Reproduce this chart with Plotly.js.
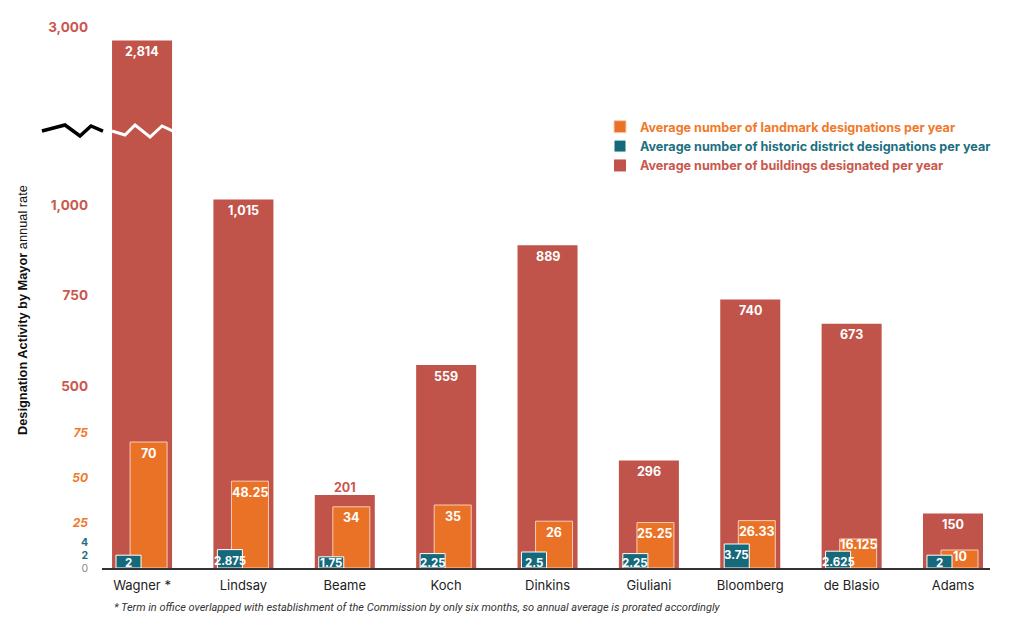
<!DOCTYPE html>
<html>
<head>
<meta charset="utf-8">
<script src="https://cdn.plot.ly/plotly-3.0.1.min.js"></script>
<style>
  html, body { margin: 0; padding: 0; background: #fff; }
  #chart { width: 1024px; height: 621px; }
</style>
</head>
<body>
<div id="chart"></div>
<script>
// Average yearly designation activity of the Landmarks Preservation Commission, by mayor
const mayors = ['Wagner *', 'Lindsay', 'Beame', 'Koch', 'Dinkins', 'Giuliani', 'Bloomberg', 'de Blasio', 'Adams'];
const buildingsPerYear = [2814, 1015, 201, 559, 889, 296, 740, 673, 150];
const landmarksPerYear = [70, 48.25, 34, 35, 26, 25.25, 26.33, 16.125, 10];
const districtsPerYear = [2, 2.875, 1.75, 2.25, 2.5, 2.25, 3.75, 2.625, 2];

const buildingTicks = [500, 750, 1000];
const buildingTicksUpper = [3000];
const landmarkTicks = [25, 50, 75];
const districtTicks = [0, 2, 4];

const seriesNames = {
  landmarks: 'Average number of landmark designations per year',
  districts: 'Average number of historic district designations per year',
  buildings: 'Average number of buildings designated per year'
};
const footnote = '* Term in office overlapped with establishment of the Commission by only six months, so annual average is prorated accordingly';

// palette
const RED = '#C0534A', ORANGE = '#EA7227', TEAL = '#15697B';
const RED_TXT = '#C9584E', ORANGE_TXT = '#F07A2C', TEAL_TXT = '#1D6F82';

// page geometry (pixels)
const W = 1024, H = 621;
const M = { l: 102, r: 34, t: 20, b: 53 };
const plotW = W - M.l - M.r, plotH = H - M.t - M.b;
const baseY = H - M.b;          // pixel row of the zero line
const breakY = 130;             // pixel row of the axis break
const lowerH = baseY - breakY;
const splitDomain = lowerH / plotH;

// pixel-per-unit scales of the three overlaid value axes
const pxBuildings = 0.363, pxLandmarks = 1.8, pxDistricts = 6.4;
const lowerMax = lowerH / pxBuildings;
const upperRange = [1600, 3092];

const px2paperX = px => (px - M.l) / plotW;
const px2paperY = py => (baseY - py) / plotH;
const zigzag = pts => pts.map((p, i) => (i ? 'L' : 'M') + px2paperX(p[0]).toFixed(4) + ',' + px2paperY(p[1]).toFixed(4)).join(' ');

const FONT = 'Inter, "Liberation Sans", Arial, sans-serif';

const redBar = { width: 0.592, offset: -0.296 };
const orangeBar = { width: 0.365, offset: -0.118 };
const tealBar = { width: 0.247, offset: -0.257 };

const traces = [
  {
    type: 'bar', x: mayors, y: buildingsPerYear, yaxis: 'y',
    width: redBar.width, offset: redBar.offset,
    marker: { color: RED, line: { width: 0 } },
    name: '<span style="color:' + RED_TXT + '">' + seriesNames.buildings + '</span>',
    legendrank: 3, hoverinfo: 'skip'
  },
  {
    type: 'bar', x: mayors, y: buildingsPerYear, yaxis: 'y4',
    width: redBar.width, offset: redBar.offset,
    marker: { color: RED, line: { width: 0 } },
    showlegend: false, hoverinfo: 'skip'
  },
  {
    type: 'bar', x: mayors, y: landmarksPerYear, yaxis: 'y2',
    width: orangeBar.width, offset: orangeBar.offset,
    marker: { color: ORANGE, line: { color: '#F7CDB5', width: 1 } },
    name: '<span style="color:' + ORANGE_TXT + '">' + seriesNames.landmarks + '</span>',
    legendrank: 1, hoverinfo: 'skip'
  },
  {
    type: 'bar', x: mayors, y: districtsPerYear, yaxis: 'y3',
    width: tealBar.width, offset: tealBar.offset,
    marker: { color: TEAL, line: { color: '#FFFFFF', width: 1 } },
    name: '<span style="color:' + TEAL_TXT + '">' + seriesNames.districts + '</span>',
    legendrank: 2, hoverinfo: 'skip'
  }
];

// value labels
const annotations = [];
const labelFont = { family: FONT, size: 12.5, color: '#FFFFFF', weight: 700 };
mayors.forEach((m, i) => {
  const b = buildingsPerYear[i];
  const upper = b > lowerMax;
  // a red bar barely taller than its orange bar carries its label on top
  const outsideLabel = b * pxBuildings - landmarksPerYear[i] * pxLandmarks < 20;
  annotations.push({
    x: m, xref: 'x', y: b, yref: upper ? 'y4' : 'y',
    text: b.toLocaleString('en-US'), showarrow: false,
    yanchor: 'middle', yshift: outsideLabel ? 8 : -11,
    font: Object.assign({}, labelFont, outsideLabel ? { color: RED_TXT } : {})
  });
  const l = landmarksPerYear[i];
  const lh = l * pxLandmarks;
  annotations.push({
    x: i + orangeBar.offset + orangeBar.width / 2, xref: 'x', y: l, yref: 'y2',
    text: String(l), showarrow: false,
    yanchor: 'middle', yshift: lh < 36 ? -6 : -11,
    font: labelFont
  });
  const d = districtsPerYear[i];
  const dh = d * pxDistricts;
  annotations.push({
    x: i + tealBar.offset + tealBar.width / 2, xref: 'x', y: d, yref: 'y3',
    text: String(d), showarrow: false,
    yanchor: 'middle', yshift: -Math.min(11, dh - 5),
    font: { family: FONT, size: 11.5, color: '#FFFFFF', weight: 700 }
  });
});

// axis title and footnote
annotations.push({
  xref: 'paper', yref: 'paper', x: px2paperX(22), y: px2paperY(310),
  text: '<b>Designation Activity by Mayor</b> annual rate', textangle: -90,
  showarrow: false, xanchor: 'center', yanchor: 'middle',
  font: { family: '"Liberation Sans", Arial, sans-serif', size: 12.8, color: '#111' }
});
annotations.push({
  xref: 'paper', yref: 'paper', x: px2paperX(112), y: px2paperY(607),
  text: footnote, showarrow: false, xanchor: 'left', yanchor: 'middle',
  font: { family: 'Roboto, sans-serif', size: 11, color: '#333', style: 'italic' }
});

const tickAxisBase = {
  showgrid: false, zeroline: false, showline: false, ticks: '',
  ticklabelstandoff: 13, fixedrange: true
};

const layout = {
  width: W, height: H,
  margin: M,
  paper_bgcolor: '#FFFFFF', plot_bgcolor: 'rgba(0,0,0,0)',
  barmode: 'overlay',
  showlegend: true,
  legend: {
    x: px2paperX(600), y: px2paperY(112), xanchor: 'left', yanchor: 'top',
    font: { family: FONT, size: 12.6, weight: 700 },
    bgcolor: 'rgba(0,0,0,0)', tracegroupgap: 0, itemclick: false
  },
  xaxis: {
    type: 'category', range: [-0.395, 8.365],
    showline: true, linecolor: '#333', linewidth: 2,
    ticks: '', showgrid: false, zeroline: false,
    tickfont: { family: FONT, size: 13, color: '#222' },
    ticklabelstandoff: 4, anchor: 'y', fixedrange: true
  },
  yaxis: Object.assign({}, tickAxisBase, {
    domain: [0, splitDomain], range: [0, lowerMax],
    tickvals: buildingTicks, ticktext: buildingTicks.map(v => v.toLocaleString('en-US')),
    tickfont: { family: FONT, size: 13.5, color: RED_TXT, weight: 700 }
  }),
  yaxis2: Object.assign({}, tickAxisBase, {
    overlaying: 'y', anchor: 'x', side: 'left', range: [0, lowerH / pxLandmarks],
    tickvals: landmarkTicks, ticktext: landmarkTicks.map(String),
    tickfont: { family: FONT, size: 12, color: ORANGE_TXT, weight: 700, style: 'italic' }
  }),
  yaxis3: Object.assign({}, tickAxisBase, {
    overlaying: 'y', anchor: 'x', side: 'left', range: [0, lowerH / pxDistricts],
    tickvals: districtTicks,
    ticktext: districtTicks.map(v => v === 0 ? '<span style="color:#8a8a8a;font-weight:400">0</span>' : String(v)),
    tickfont: { family: FONT, size: 10.5, color: TEAL_TXT, weight: 700 }
  }),
  yaxis4: Object.assign({}, tickAxisBase, {
    domain: [splitDomain, 1], anchor: 'x', range: upperRange,
    tickvals: buildingTicksUpper, ticktext: buildingTicksUpper.map(v => v.toLocaleString('en-US')),
    tickfont: { family: FONT, size: 13.5, color: RED_TXT, weight: 700 }
  }),
  shapes: [
    {
      type: 'path', xref: 'paper', yref: 'paper', layer: 'above',
      path: zigzag([[42, 131], [65, 125], [80, 136], [91, 126], [103, 131]]),
      line: { color: '#000', width: 3.5 }
    },
    {
      type: 'path', xref: 'paper', yref: 'paper', layer: 'above',
      path: zigzag([[112, 131], [125, 135], [135, 125], [150, 137], [162, 126], [173, 131]]),
      line: { color: '#FFFFFF', width: 3 }
    }
  ],
  annotations: annotations
};

Plotly.newPlot('chart', traces, layout, { staticPlot: true, displayModeBar: false });
</script>
</body>
</html>
